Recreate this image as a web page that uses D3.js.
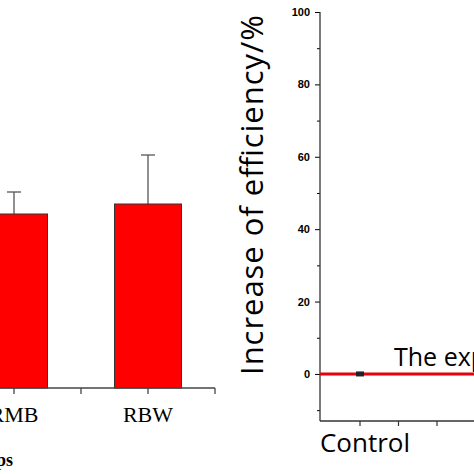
<!DOCTYPE html>
<html><head><meta charset="utf-8">
<script src="https://cdn.jsdelivr.net/npm/d3@7"></script>
<style>body{margin:0;background:#fff}</style></head>
<body><svg id="c" width="474" height="474"></svg>
<script>
const groups = ["RMB", "RBW"];
const means = [69.6, 73.6];
const errs = [8.8, 19.6];
const rightTicks = [0, 20, 40, 60, 80, 100];
const rightCats = ["Control", "c2", "c3"];
const controlValue = [0];

const svg = d3.select("#c");
// Left panel
const xL = d3.scalePoint().domain(["RMB", "m1", "RBW", "m2"]).range([14, 215]);
const yL = d3.scaleLinear().domain([0, 100]).range([388, 138]);
const bw = 67;
groups.forEach((g, i) => {
  const cx = xL(g);
  svg.append("line").attr("x1", cx).attr("x2", cx).attr("y1", yL(means[i])).attr("y2", yL(means[i] + errs[i])).attr("stroke", "#555").attr("stroke-width", 1.3);
  svg.append("line").attr("x1", cx - 7).attr("x2", cx + 7).attr("y1", yL(means[i] + errs[i])).attr("y2", yL(means[i] + errs[i])).attr("stroke", "#555").attr("stroke-width", 1.3);
  svg.append("rect").attr("x", cx - bw / 2).attr("width", bw).attr("y", yL(means[i])).attr("height", yL(0) - yL(means[i])).attr("fill", "#ff0000").attr("stroke", "#333").attr("stroke-width", 1);
});
svg.append("line").attr("x1", 0).attr("x2", 215).attr("y1", 388).attr("y2", 388).attr("stroke", "#444").attr("stroke-width", 1.3);
xL.domain().forEach(d => svg.append("line").attr("x1", xL(d)).attr("x2", xL(d)).attr("y1", 388).attr("y2", 394).attr("stroke", "#444").attr("stroke-width", 1.3));
groups.forEach(g => svg.append("text").attr("x", xL(g)).attr("y", 422).attr("text-anchor", "middle").attr("font-family", "Liberation Serif").attr("font-size", 22).text(g));
svg.append("text").attr("x", 13).attr("y", 466).attr("text-anchor", "end").attr("font-family", "Liberation Serif").attr("font-weight", "bold").attr("font-size", 18).text("Groups");

// Right panel
const yR = d3.scaleLinear().domain([-13, 100]).range([421, 12]);
const g = svg.append("g").attr("transform", "translate(320,0)");
g.append("g").call(d3.axisLeft(yR).tickValues(rightTicks).tickSize(5).tickFormat(d3.format("d")))
  .call(a => a.select(".domain").remove())
  .call(a => a.selectAll("text").attr("font-family", "Liberation Sans").attr("font-weight", "bold").attr("font-size", 11).attr("dx", -2));
g.append("g").call(d3.axisLeft(yR).tickValues([10, 30, 50, 70, 90, -10]).tickSize(3).tickFormat(""))
  .call(a => a.select(".domain").remove());
g.append("line").attr("x1", 0).attr("x2", 0).attr("y1", yR(100)).attr("y2", yR(-13)).attr("stroke", "#333").attr("stroke-width", 1.3);
g.append("line").attr("x1", 0).attr("x2", 154).attr("y1", 421).attr("y2", 421).attr("stroke", "#333").attr("stroke-width", 1.3);
const xR = d3.scalePoint().domain(rightCats).range([40, 117]);
rightCats.forEach(c => g.append("line").attr("x1", xR(c)).attr("x2", xR(c)).attr("y1", 421).attr("y2", 426).attr("stroke", "#333").attr("stroke-width", 1.2));
g.append("line").attr("x1", 0).attr("x2", 154).attr("y1", yR(0)).attr("y2", yR(0)).attr("stroke", "#e8000a").attr("stroke-width", 3);
g.append("rect").attr("x", xR("Control") - 4).attr("y", yR(controlValue[0]) - 2.5).attr("width", 8).attr("height", 5).attr("fill", "#222");
g.append("text").attr("x", 74).attr("y", yR(0) - 8).attr("font-family", "Open Sans").attr("font-size", 25).text("The experimental value");
g.append("text").attr("x", xR("Control") + 5).attr("y", 452).attr("text-anchor", "middle").attr("font-family", "Open Sans").attr("font-size", 26).text("Control");
svg.append("text").attr("transform", "translate(263,195) rotate(-90)").attr("text-anchor", "middle").attr("font-family", "Open Sans").attr("font-size", 31).attr("textLength", 360).text("Increase of efficiency/%");
</script></body></html>
